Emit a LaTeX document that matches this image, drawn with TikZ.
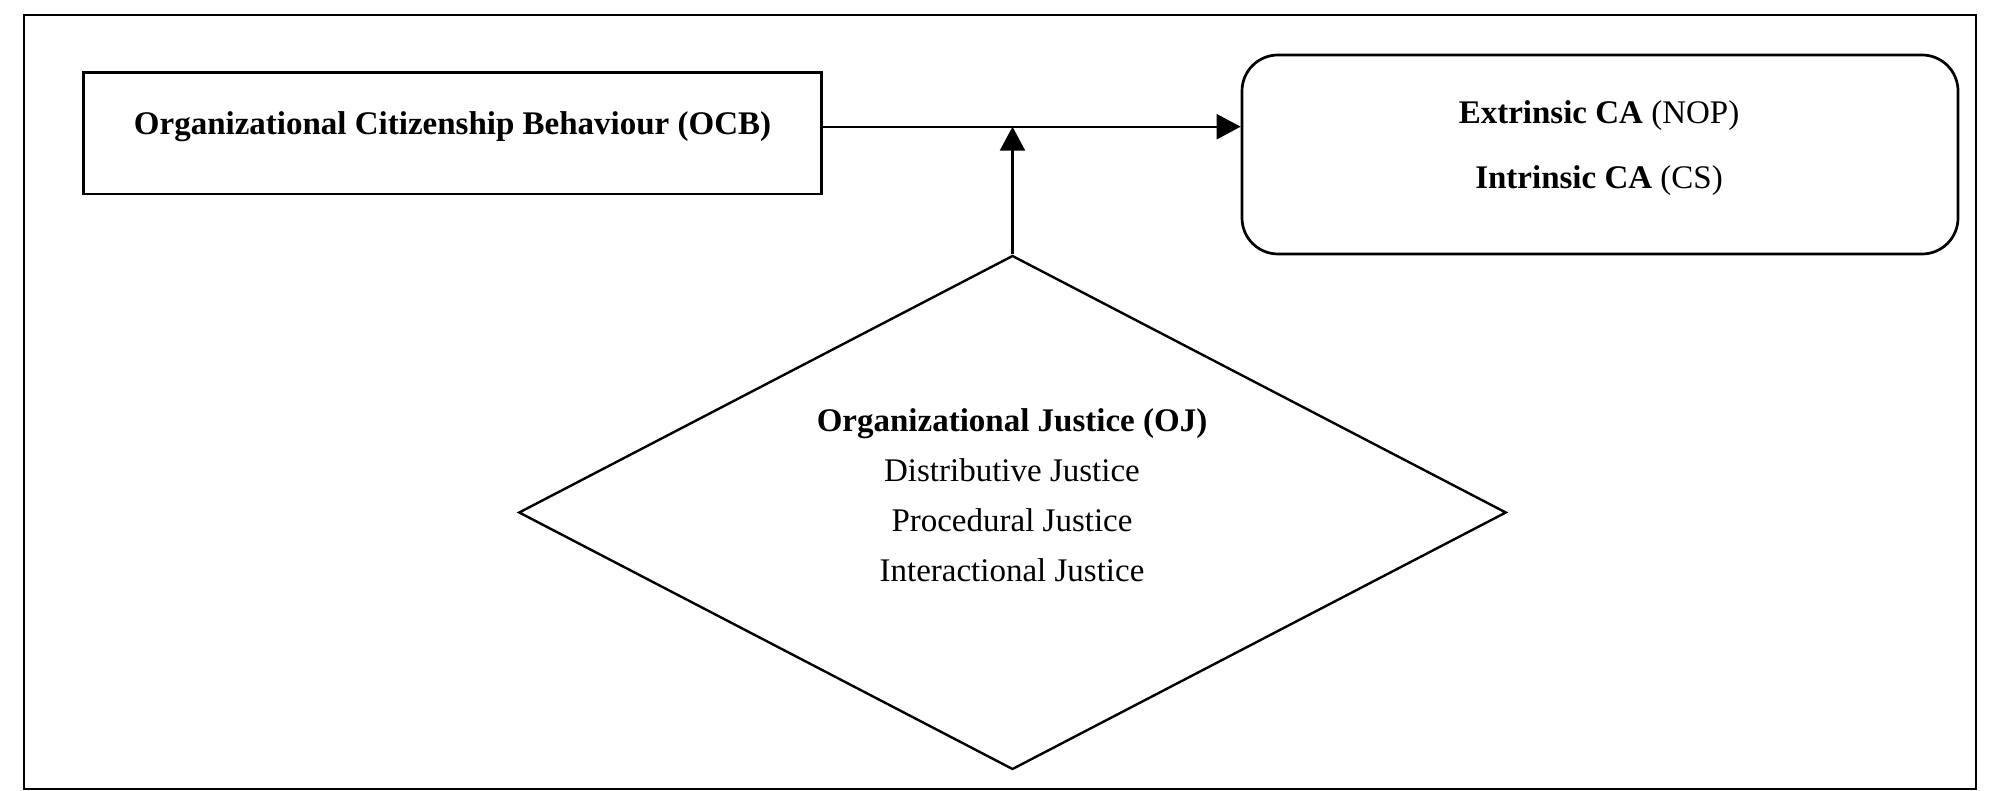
\documentclass[tikz,border=0pt]{standalone}
\usepackage{fontspec}
\setmainfont{Liberation Serif}
\usetikzlibrary{shapes.geometric,arrows.meta}
\begin{document}
\begin{tikzpicture}[x=1pt,y=-1pt,
 txt/.style={font=\fontsize{33}{40}\selectfont, inner sep=0pt, anchor=base},
 boxA/.style={draw, line width=2.7pt, minimum width=738pt, minimum height=121.5pt, inner sep=0pt, font=\fontsize{33}{40}\selectfont\bfseries, text height=13.4pt, text depth=10pt},
 boxB/.style={draw, line width=2.7pt, rounded corners=36pt, minimum width=716pt, minimum height=199pt},
 dia/.style={draw, diamond, line width=2.4pt, minimum width=987.5pt, minimum height=514pt, inner sep=0pt},
 conn/.style={line width=2.2pt, -{Triangle[length=24pt,width=25pt]}}]
\useasboundingbox (0,0) rectangle (1989,791);
\draw[line width=2pt] (24,15) rectangle (1976,789);
\node[boxA] (ocb) at (452.5,133.3) {Organizational Citizenship Behaviour (OCB)};
\node[boxB] (ca) at (1600,154.5) {};
\node[txt] (ext) at (1599,123.3) {\textbf{Extrinsic CA} (NOP)};
\node[txt] (int) at (1599,188.3) {\textbf{Intrinsic CA} (CS)};
\node[dia] (oj) at (1012.5,512.5) {};
\node[txt, font=\fontsize{33}{40}\selectfont\bfseries] (ojt) at (1012,431.7) {Organizational Justice (OJ)};
\node[txt] (dj) at (1012,481.7) {Distributive Justice};
\node[txt] (pj) at (1012,531.2) {Procedural Justice};
\node[txt] (ij) at (1012,581.7) {Interactional Justice};
\coordinate (j) at (1012.5,126.7);
\draw[conn] (ocb.east |- j) -- (ca.west |- j);
\draw[conn] (oj.north) -- (j);
\end{tikzpicture}
\end{document}
